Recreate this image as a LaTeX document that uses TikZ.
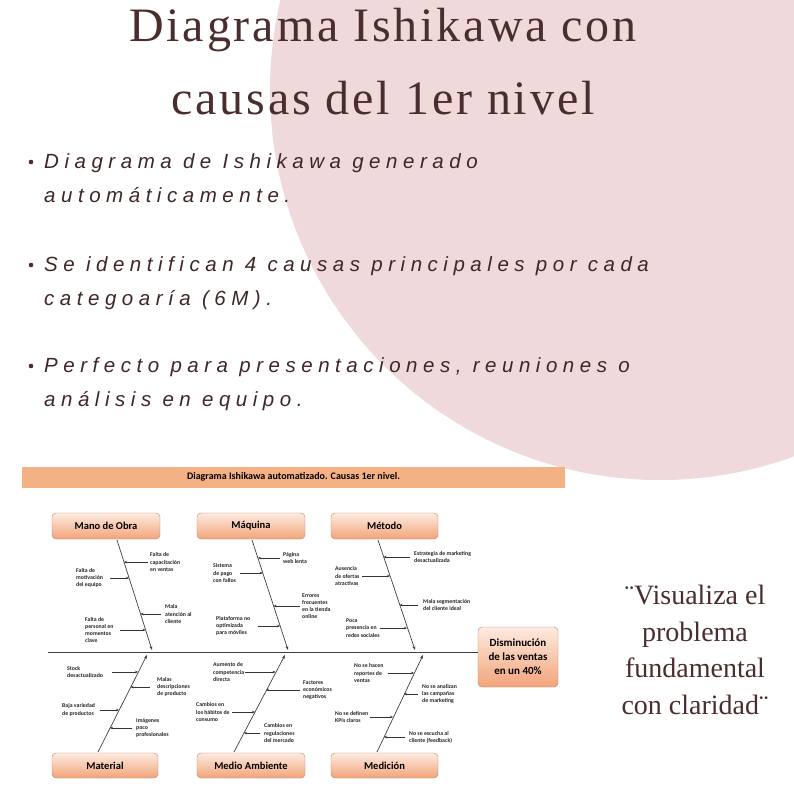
\documentclass[tikz,border=0pt]{standalone}
\usepackage{fontspec}
\setmainfont{Liberation Serif}
\newfontfamily\bulfont[LetterSpace=27]{Liberation Sans}
\newfontfamily\titfont[LetterSpace=6]{Liberation Serif}
\newfontfamily\dgfont{Carlito}
\usetikzlibrary{arrows.meta}
\definecolor{pinkbg}{HTML}{EFD9DA}
\definecolor{titlec}{HTML}{4A2E2E}
\definecolor{barc}{HTML}{F4B183}
\definecolor{boxtop}{HTML}{FDEBE0}
\definecolor{boxbot}{HTML}{F2A47A}
\tikzset{
 catbox/.style={draw=boxbot!80!black, line width=0.4pt, rounded corners=4pt, top color=boxtop, bottom color=boxbot, font=\dgfont\bfseries\fontsize{10.5}{12}\selectfont, text=black, inner sep=0pt},
 bone/.style={draw=black!75, line width=0.7pt, -{Stealth[length=4pt,width=3pt]}},
 carrow/.style={draw=black!80, line width=0.5pt, -{Stealth[length=3pt,width=2.5pt]}},
 ctext/.style={font=\dgfont\bfseries\fontsize{5.8}{7.2}\selectfont, align=left, inner sep=0pt, text=black!85},
 bullet/.style={font=\bulfont\itshape\fontsize{20.5}{34}\selectfont, text=titlec!85!black, anchor=north west, align=left, inner sep=0pt},
}
\newcommand{\mycause}[7]{%
 \node[ctext, anchor=#6] (#1) at (#2,#3) {#7};
 \coordinate (#1s) at (#4,#3); \coordinate (#1e) at (#5,#3);
 \draw[carrow] (#1s) -- (#1e);}
\begin{document}
\begin{tikzpicture}[x=1pt,y=-1pt]
\useasboundingbox (0,0) rectangle (794,794);
\fill[white] (0,0) rectangle (794,794);
\begin{scope}
\clip (0,0) rectangle (794,794);
\fill[pinkbg] (660,90) circle (390);
\end{scope}
\node[text=titlec, font=\titfont\fontsize{48}{54}\selectfont] (t1) at (383,30) {Diagrama Ishikawa con};
\node[text=titlec, font=\titfont\fontsize{48}{54}\selectfont] (t2) at (383,98) {causas del 1er nivel};
\foreach \y in {162,265,366} \fill[titlec] (31,\y) circle (2.3);
\node[bullet] (b1) at (44,153) {Diagrama de Ishikawa generado\\automáticamente.};
\node[bullet] (b2) at (44,256) {Se identifican 4 causas principales por cada\\categoaría (6M).};
\node[bullet] (b3) at (44,357) {Perfecto para presentaciones, reuniones o\\análisis en equipo.};
\node[text=titlec, font=\fontsize{28}{36.5}\selectfont, align=center] (vz) at (695,650) {¨Visualiza el\\problema\\fundamental\\con claridad¨};
% diagram
\node[fill=barc, minimum width=543, minimum height=21, inner sep=0pt, font=\dgfont\bfseries\fontsize{10}{12}\selectfont] (bar) at (293.5,477) {Diagrama Ishikawa automatizado. Causas 1er nivel.};
\node[catbox, minimum width=108, minimum height=26] (mo) at (106,526) {Mano de Obra};
\node[catbox, minimum width=108, minimum height=26] (mq) at (251,526) {Máquina};
\node[catbox, minimum width=107, minimum height=26] (me) at (384.5,526) {Método};
\node[catbox, minimum width=106, minimum height=25] (ma) at (105,765.5) {Material};
\node[catbox, minimum width=108, minimum height=25] (ma2) at (251,765.5) {Medio Ambiente};
\node[catbox, minimum width=107, minimum height=25] (mc) at (384.5,765.5) {Medición};
\node[catbox, minimum width=80, minimum height=60, align=center, font=\dgfont\bfseries\fontsize{11}{14}\selectfont] (ef) at (518,657) {Disminución\\de las ventas\\en un 40\%};
\coordinate (sp) at (48,652);
\draw[black!75, line width=0.8pt] (sp) -- (ef.west |- sp);
\coordinate (m1a) at (117,540); \coordinate (m1b) at (152,650);
\coordinate (m2a) at (252,540); \coordinate (m2b) at (288,650);
\coordinate (m3a) at (378,540); \coordinate (m3b) at (415,650);
\coordinate (n1a) at (98,752); \coordinate (n1b) at (147,655);
\coordinate (n2a) at (234,752); \coordinate (n2b) at (285,655);
\coordinate (n3a) at (377,752); \coordinate (n3b) at (423,655);
\foreach \a in {m1,m2,m3,n1,n2,n3} \draw[bone] (\a a) -- (\a b);
% Mano de obra
\mycause{a1}{150}{562}{148}{124}{west}{Falta de\\capacitación\\en ventas}
\mycause{a2}{76}{578}{110}{129}{west}{Falta de\\motivación\\del equipo}
\mycause{a3}{165}{614}{161}{140.5}{west}{Mala\\atención al\\cliente}
\mycause{a4}{85}{630}{120}{145.6}{west}{Falta de\\personal en\\momentos\\clave}
% Maquina
\mycause{b1}{283}{558}{280}{258}{west}{Página\\web lenta}
\mycause{b2}{213}{573}{240}{262.8}{west}{Sistema\\de pago\\con fallos}
\mycause{b3}{302}{606}{300}{273.6}{west}{Errores\\frecuentes\\en la tienda\\online}
\mycause{b4}{216}{626}{258}{280}{west}{Plataforma no\\optimizada\\para móviles}
% Metodo
\mycause{c1}{414}{557}{410}{383.6}{west}{Estrategia de marketing\\desactualizada}
\mycause{c2}{335}{576}{362}{390}{west}{Ausencia\\de ofertas\\atractivas}
\mycause{c3}{423}{605}{418}{399.5}{west}{Mala segmentación\\del cliente ideal}
\mycause{c4}{346}{628}{380}{407}{west}{Poca\\presencia en\\redes sociales}
% Material
\mycause{d1}{67}{672}{112}{138}{west}{Stock\\desactualizado}
\mycause{d2}{157}{687}{150}{130.5}{west}{Malas\\descripciones\\de producto}
\mycause{d3}{62}{710}{100}{119}{west}{Baja variedad\\de productos}
\mycause{d4}{136}{728}{132}{110}{west}{Imágenes\\poco\\profesionales}
% Medio ambiente
\mycause{e1}{213}{672}{245}{275.6}{west}{Aumento de\\competencia\\directa}
\mycause{e2}{303}{690}{300}{266}{west}{Factores\\económicos\\negativos}
\mycause{e3}{196}{712}{232}{255}{west}{Cambios en\\los hábitos de\\consumo}
\mycause{e4}{264}{733}{260}{244}{west}{Cambios en\\regulaciones\\del mercado}
% Medicion
\mycause{f1}{354}{673}{388}{414}{west}{No se hacen\\reportes de\\ventas}
\mycause{f2}{422}{694}{418}{404}{west}{No se analizan\\las campañas\\de marketing}
\mycause{f3}{335}{717}{370}{393}{west}{No se definen\\KPIs claros}
\mycause{f4}{409}{737}{405}{384}{west}{No se escucha al\\cliente (feedback)}
\end{tikzpicture}
\end{document}
